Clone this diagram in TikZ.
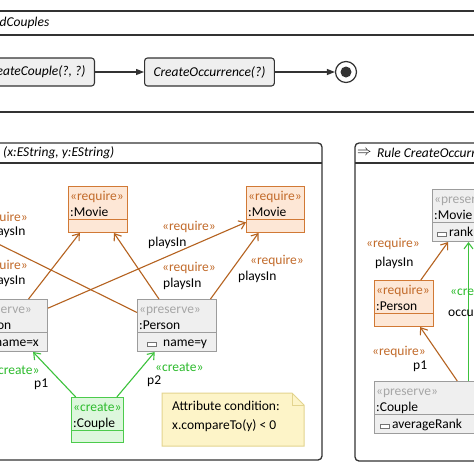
\documentclass[tikz,border=0pt]{standalone}
\usepackage{fontspec}
\setmainfont{Carlito}
\usetikzlibrary{arrows.meta,positioning}

\definecolor{reqline}{HTML}{B5621F}
\definecolor{reqtext}{HTML}{C26B2B}
\definecolor{reqfill}{HTML}{FDE7D6}
\definecolor{reqdraw}{HTML}{D17935}
\definecolor{crtline}{HTML}{3CC23C}
\definecolor{crttext}{HTML}{2DBB2D}
\definecolor{crtfill}{HTML}{DDF7DD}
\definecolor{crtdraw}{HTML}{4CCB4C}
\definecolor{prsfill}{HTML}{EFEFEF}
\definecolor{prsdraw}{HTML}{9C9C9C}
\definecolor{prstext}{HTML}{A6A6A6}
\definecolor{notefill}{HTML}{FDF4C8}
\definecolor{notedraw}{HTML}{E3D48F}
\definecolor{framec}{HTML}{333333}

\begin{document}
\begin{tikzpicture}[x=1pt, y=-1pt,
  every node/.style={font=\fontsize{13.5}{16}\selectfont, inner sep=0pt},
  rulefr/.style={draw=framec, line width=1.3pt},
  action/.style={draw=framec, line width=1.1pt, fill=prsfill, rounded corners=3pt,
    minimum height=28pt, inner xsep=9pt, font=\fontsize{13.5}{16}\selectfont\itshape},
  flow/.style={draw=framec, line width=1.1pt, -{Triangle[length=8pt,width=6pt]}},
  classbox/.style={draw, line width=1pt, anchor=north west},
  reqbox/.style={classbox, draw=reqdraw, fill=reqfill, minimum height=46pt},
  crtbox/.style={classbox, draw=crtdraw, fill=crtfill, minimum height=45pt},
  prsbox/.style={classbox, draw=prsdraw, fill=prsfill, minimum height=52pt},
  txt/.style={anchor=base west},
  lbl/.style={anchor=west},
  req/.style={draw=reqline, line width=1.1pt, -{Straight Barb[length=6pt,width=9pt]}},
  crt/.style={draw=crtline, line width=1.1pt, -{Straight Barb[length=6pt,width=9pt]}},
  attric/.style={draw=black!55, fill=white, line width=0.7pt}]

  \useasboundingbox (0,0) rectangle (474,474);
  \clip (0,0) rectangle (474,474);
  \fill[white] (0,0) rectangle (474,474);

  % Unit
  \draw[rulefr] (-10,11) rectangle (490,112);
  \draw[rulefr] (-10,35) -- (490,35);
  \node[lbl, font=\fontsize{13.5}{16}\selectfont\itshape] (unit) at (-0.5,23) {dCouples};
  \node[action, anchor=east] (cc) at (95,72) {CreateCouple(?, ?)};
  \node[action, anchor=west] (co) at (144,72) {CreateOccurrence(?)};
  \node[circle, draw=framec, line width=1.2pt, fill=white, minimum size=21pt] (fin) at (346,72) {};
  \fill[framec] (fin) circle (5.5);
  \draw[flow] (cc) -- (co);
  \draw[flow] (co) -- (fin);

  % Rule CreateCouple
  \draw[rulefr, rounded corners=4pt] (-10,143) rectangle (322,460);
  \draw[rulefr] (-10,163) -- (322,163);
  \node[lbl, font=\fontsize{13.5}{16}\selectfont\itshape] (rcc) at (3,153) {(x:EString, y:EString)};

  \fill[notefill] (162,393) -- (292,393) -- (304,405) -- (304,446) -- (162,446) -- cycle;
  \draw[notedraw, line width=1pt] (162,393) -- (292,393) -- (304,405) -- (304,446) -- (162,446) -- cycle;
  \draw[notedraw, line width=1pt] (292,393) -- (292,405) -- (304,405);
  \node[anchor=north west, align=left, font=\fontsize{13.5}{19}\selectfont] (cond) at (172,401) {Attribute condition:\\x.compareTo(y) < 0};

  \node[reqbox, minimum width=59pt] (m1) at (68,186) {};
  \draw[reqdraw] ([yshift=-33pt]m1.north west) -- ([yshift=-33pt]m1.north east);
  \node[txt, text=reqtext] (m1s) at ([xshift=2pt,yshift=-14pt]m1.north west) {«require»};
  \node[txt] (m1n) at ([xshift=2pt,yshift=-30pt]m1.north west) {:Movie};

  \node[reqbox, minimum width=58pt] (m2) at (246,186) {};
  \draw[reqdraw] ([yshift=-33pt]m2.north west) -- ([yshift=-33pt]m2.north east);
  \node[txt, text=reqtext] (m2s) at ([xshift=2pt,yshift=-14pt]m2.north west) {«require»};
  \node[txt] (m2n) at ([xshift=2pt,yshift=-30pt]m2.north west) {:Movie};

  \node[prsbox, minimum width=79pt] (p1) at (-32,299) {};
  \draw[prsdraw] ([yshift=-33pt]p1.north west) -- ([yshift=-33pt]p1.north east);
  \node[txt, text=prstext] (p1s) at ([xshift=2pt,yshift=-14pt]p1.north west) {«preserve»};
  \node[txt] (p1n) at ([xshift=2pt,yshift=-30pt]p1.north west) {:Person};
  \draw[attric] ([xshift=10pt,yshift=-43.5pt]p1.north west) rectangle ++(9,4);
  \node[txt] (p1a) at ([xshift=27pt,yshift=-47pt]p1.north west) {name=x};

  \node[prsbox, minimum width=79pt] (p2) at (137,299) {};
  \draw[prsdraw] ([yshift=-33pt]p2.north west) -- ([yshift=-33pt]p2.north east);
  \node[txt, text=prstext] (p2s) at ([xshift=2pt,yshift=-14pt]p2.north west) {«preserve»};
  \node[txt] (p2n) at ([xshift=2pt,yshift=-30pt]p2.north west) {:Person};
  \draw[attric] ([xshift=10pt,yshift=-43.5pt]p2.north west) rectangle ++(9,4);
  \node[txt] (p2a) at ([xshift=26pt,yshift=-47pt]p2.north west) {name=y};

  \node[crtbox, minimum width=52pt] (cp) at (71,397) {};
  \draw[crtdraw] ([yshift=-33pt]cp.north west) -- ([yshift=-33pt]cp.north east);
  \node[txt, text=crttext] (cps) at ([xshift=2pt,yshift=-14pt]cp.north west) {«create»};
  \node[txt] (cpn) at ([xshift=2pt,yshift=-30pt]cp.north west) {:Couple};

  \coordinate (m0) at (-30,230);

  \draw[req] (p1) -- (m1);
  \draw[req] (p1) -- (m2);
  \draw[req] (p2) -- (m1);
  \draw[req] ([xshift=33.5pt]p2.north) -- ([xshift=-17pt]m2.south);
  \draw[req] ([yshift=13pt]p2.west) -- (m0);
  \draw[crt] (cp) -- (p1);
  \draw[crt] (cp) -- (p2);

  \node[lbl, text=reqtext] (e1s) at (-26,218) {«require»};
  \node[lbl] (e1n) at (-13,232) {playsIn};
  \node[lbl, text=reqtext] (e2s) at (-26,266) {«require»};
  \node[lbl] (e2n) at (-13,281) {playsIn};
  \node[lbl, text=reqtext] (e3s) at (162,227) {«require»};
  \node[lbl] (e3n) at (148,243) {playsIn};
  \node[lbl, text=reqtext] (e4s) at (162,268) {«require»};
  \node[lbl] (e4n) at (163,284) {playsIn};
  \node[lbl, text=reqtext] (e5s) at (250,261) {«require»};
  \node[lbl] (e5n) at (238,277) {playsIn};
  \node[lbl, text=crttext] (e6s) at (-9,370) {«create»};
  \node[lbl] (e6n) at (34,384) {p1};
  \node[lbl, text=crttext] (e7s) at (155,367) {«create»};
  \node[lbl] (e7n) at (147,381) {p2};

  % Rule CreateOccurrence
  \draw[rulefr, rounded corners=4pt] (355,143) rectangle (490,461);
  \draw[rulefr] (355,163) -- (490,163);
  \node[lbl] (rarr) at (357,153) {$\Rightarrow$};
  \node[lbl, font=\fontsize{13.5}{16}\selectfont\itshape, right=5pt of rarr] (rco) {Rule CreateOccurrence};

  \node[prsbox, minimum width=69pt] (m3) at (432,189) {};
  \draw[prsdraw] ([yshift=-33pt]m3.north west) -- ([yshift=-33pt]m3.north east);
  \node[txt, text=prstext] (m3s) at ([xshift=2pt,yshift=-14pt]m3.north west) {«preserve»};
  \node[txt] (m3n) at ([xshift=2pt,yshift=-30pt]m3.north west) {:Movie};
  \draw[attric] ([xshift=5pt,yshift=-43.5pt]m3.north west) rectangle ++(9,4);
  \node[txt] (m3a) at ([xshift=17pt,yshift=-47pt]m3.north west) {rank};

  \node[reqbox, minimum width=59pt] (p3) at (374,280) {};
  \draw[reqdraw] ([yshift=-33pt]p3.north west) -- ([yshift=-33pt]p3.north east);
  \node[txt, text=reqtext] (p3s) at ([xshift=2pt,yshift=-14pt]p3.north west) {«require»};
  \node[txt] (p3n) at ([xshift=2pt,yshift=-30pt]p3.north west) {:Person};

  \node[prsbox, minimum width=202pt] (c2) at (374,381) {};
  \draw[prsdraw] ([yshift=-33pt]c2.north west) -- ([yshift=-33pt]c2.north east);
  \node[txt, text=prstext] (c2s) at ([xshift=2pt,yshift=-14pt]c2.north west) {«preserve»};
  \node[txt] (c2n) at ([xshift=2pt,yshift=-30pt]c2.north west) {:Couple};
  \draw[attric] ([xshift=6pt,yshift=-43.5pt]c2.north west) rectangle ++(9,4);
  \node[txt] (c2a) at ([xshift=18pt,yshift=-47pt]c2.north west) {averageRank};

  \coordinate (oc) at ([xshift=1.5pt]m3.south);
  \draw[req] (p3) -- (m3);
  \draw[req] (c2) -- (p3);
  \draw[crt] (oc |- c2.north) -- (oc);

  \node[lbl, text=reqtext] (e8s) at (366,244) {«require»};
  \node[lbl] (e8n) at (375,263) {playsIn};
  \node[lbl, text=reqtext] (e9s) at (372,352) {«require»};
  \node[lbl] (e9n) at (413,366) {p1};
  \node[lbl, text=crttext] (e10s) at (450,291) {«create»};
  \node[lbl] (e10n) at (448,313) {occurrence};
\end{tikzpicture}
\end{document}
